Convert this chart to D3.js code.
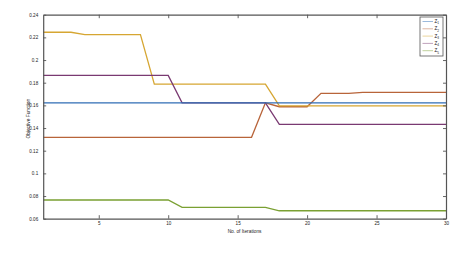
<!DOCTYPE html>
<html>
<head>
<meta charset="utf-8">
<script src="https://cdn.jsdelivr.net/npm/d3@7"></script>
<style>
  body { margin: 0; background: #fff; }
  text { font-family: "Liberation Sans", Arial, sans-serif; fill: #222; }
</style>
</head>
<body>
<div id="chart"></div>
<script>
// iterations 1..30
var iterations = d3.range(1, 31);
var seriesNames = ["1", "2", "3", "4", "5"];
var seriesColors = ["#2f6db5", "#b8643a", "#d6a632", "#7a3a72", "#7aa032"];

// values, one per iteration
var z1 = [0.1622,0.1622,0.1622,0.1622,0.1622,0.1622,0.1622,0.1622,0.1622,0.1622,
          0.1622,0.1622,0.1622,0.1622,0.1622,0.1622,0.1622,0.1622,0.1622,0.1622,
          0.1622,0.1622,0.1622,0.1622,0.1622,0.1622,0.1622,0.1622,0.1622,0.1622];
var z2 = [0.1318,0.1318,0.1318,0.1318,0.1318,0.1318,0.1318,0.1318,0.1318,0.1318,
          0.1318,0.1318,0.1318,0.1318,0.1318,0.1318,0.1622,0.1588,0.1588,0.1588,
          0.1706,0.1706,0.1706,0.1715,0.1715,0.1715,0.1715,0.1715,0.1715,0.1715];
var z3 = [0.2245,0.2245,0.2245,0.2225,0.2225,0.2225,0.2225,0.2225,0.1788,0.1788,
          0.1788,0.1788,0.1788,0.1788,0.1788,0.1788,0.1788,0.1595,0.1595,0.1595,
          0.1595,0.1595,0.1595,0.1595,0.1595,0.1595,0.1595,0.1595,0.1595,0.1595];
var z4 = [0.1865,0.1865,0.1865,0.1865,0.1865,0.1865,0.1865,0.1865,0.1865,0.1865,
          0.1622,0.1622,0.1622,0.1622,0.1622,0.1622,0.1622,0.1433,0.1433,0.1433,
          0.1433,0.1433,0.1433,0.1433,0.1433,0.1433,0.1433,0.1433,0.1433,0.1433];
var z5 = [0.0765,0.0765,0.0765,0.0765,0.0765,0.0765,0.0765,0.0765,0.0765,0.0765,
          0.0700,0.0700,0.0700,0.0700,0.0700,0.0700,0.0700,0.0670,0.0670,0.0670,
          0.0670,0.0670,0.0670,0.0670,0.0670,0.0670,0.0670,0.0670,0.0670,0.0670];
var allSeries = [z1, z2, z3, z4, z5];

var xTicks = [5, 10, 15, 20, 25, 30];
var yTicks = [0.06, 0.08, 0.1, 0.12, 0.14, 0.16, 0.18, 0.2, 0.22, 0.24];

var W = 474, H = 260;
var plotL = 43.2, plotR = 446, plotT = 14.7, plotB = 218.7;

var svg = d3.select("#chart").append("svg")
    .attr("width", W).attr("height", H);

var x = d3.scaleLinear().domain([1, 30]).range([plotL, plotR]);
var y = d3.scaleLinear().domain([0.06, 0.24]).range([plotB, plotT]);

var fmt = function(v) { return String(+v.toFixed(2)); };
var axisCol = "#555";

// lines (blue drawn last so it sits on top like the reference)
var line = d3.line()
    .x(function(d, i) { return x(iterations[i]); })
    .y(function(d) { return y(d); });

var order = [1, 2, 3, 4, 0];
order.forEach(function(k) {
  svg.append("path")
    .datum(allSeries[k])
    .attr("d", line)
    .attr("fill", "none")
    .attr("stroke", seriesColors[k])
    .attr("stroke-width", 1.3);
});

// axes, ticks inward on all four sides
var ax = svg.append("g");

ax.append("g").attr("transform", "translate(0," + plotB + ")")
  .call(d3.axisBottom(x).tickValues(xTicks).tickSizeInner(-3.5).tickSizeOuter(0).tickPadding(3.5))
  .call(function(g) { g.select(".domain").attr("stroke", axisCol).attr("stroke-width", 1.2); });
ax.append("g").attr("transform", "translate(0," + plotT + ")")
  .call(d3.axisTop(x).tickValues(xTicks).tickSizeInner(-3.5).tickSizeOuter(0).tickFormat(""))
  .call(function(g) { g.select(".domain").attr("stroke", axisCol).attr("stroke-width", 1.2); });
ax.append("g").attr("transform", "translate(" + plotL + ",0)")
  .call(d3.axisLeft(y).tickValues(yTicks).tickSizeInner(-3).tickSizeOuter(0).tickPadding(5).tickFormat(fmt))
  .call(function(g) { g.select(".domain").attr("stroke", axisCol).attr("stroke-width", 1.2); });
ax.append("g").attr("transform", "translate(" + plotR + ",0)")
  .call(d3.axisRight(y).tickValues(yTicks).tickSizeInner(-3).tickSizeOuter(0).tickFormat(""))
  .call(function(g) { g.select(".domain").attr("stroke", axisCol).attr("stroke-width", 1.2); });

ax.selectAll(".tick line").attr("stroke", axisCol).attr("stroke-width", 0.9);
ax.selectAll(".tick text").attr("fill", "#222").style("font-family", "Liberation Sans, Arial, sans-serif");
ax.selectAll("text").attr("font-size", "4.6px");

// axis titles
svg.append("text")
  .attr("x", (plotL + plotR) / 2).attr("y", 232.5)
  .attr("text-anchor", "middle").attr("font-size", "4.8px")
  .text("No. of Iterations");
svg.append("text")
  .attr("transform", "translate(29.5," + ((plotT + plotB) / 2 + 2) + ") rotate(-90)")
  .attr("text-anchor", "middle").attr("font-size", "4.8px")
  .text("Objective Function");

// legend
var lg = svg.append("g").attr("transform", "translate(420,17)");
lg.append("rect").attr("width", 23).attr("height", 39)
  .attr("fill", "#fff").attr("stroke", axisCol).attr("stroke-width", 0.8);
seriesNames.forEach(function(n, i) {
  var row = lg.append("g").attr("transform", "translate(0," + (4.5 + i * 7.3) + ")");
  row.append("line").attr("x1", 2.5).attr("x2", 13).attr("y1", 0).attr("y2", 0)
    .attr("stroke", seriesColors[i]).attr("stroke-width", 0.8).attr("stroke-opacity", 0.6);
  var t = row.append("text").attr("x", 14.5).attr("y", 1.6).attr("font-size", "4.6px");
  t.append("tspan").text("Z");
  t.append("tspan").attr("font-size", "3.2px").attr("dy", 1.2).text(n);
});
</script>
</body>
</html>
